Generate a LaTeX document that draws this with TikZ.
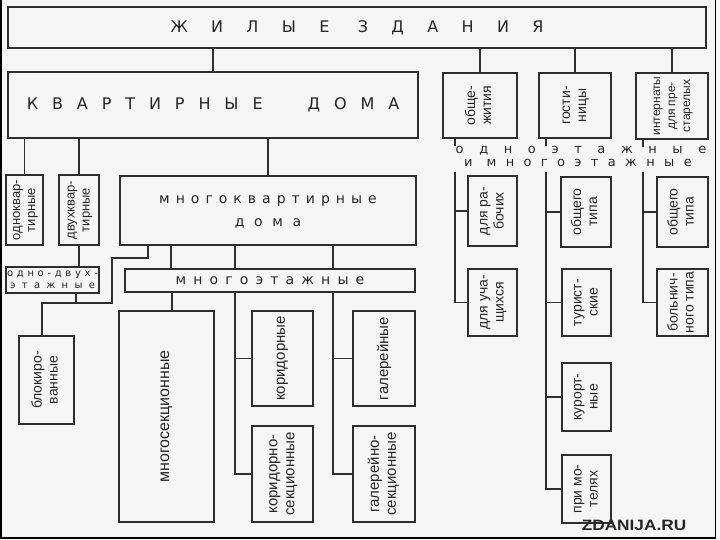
\documentclass[tikz,border=0pt]{standalone}
\usepackage{fontspec}
\usepackage{graphicx}
\setmainfont{Liberation Sans}
\newfontfamily\rotfont{Liberation Sans}
\newfontfamily\widefont{DejaVu Sans}
\newfontfamily\wmfont[FakeStretch=1.15]{Liberation Sans}
\definecolor{lc}{gray}{0.18}
\definecolor{tc}{gray}{0.15}
\definecolor{bgc}{gray}{0.965}
\newcommand\rotlab[1]{\rotatebox{90}{\begin{tabular}{@{}c@{}}#1\end{tabular}}}
\begin{document}
\begin{tikzpicture}[x=1pt,y=-1pt,
 box/.style={draw=lc,line width=1.5pt,rectangle,inner sep=0pt,text=tc},
 conn/.style={draw=lc,line width=1.5pt},
 fr/.style={draw=black,line width=1.3pt},
 lab16/.style={font=\rotfont\fontsize{16}{18}\selectfont},
 lab15/.style={font=\rotfont\fontsize{15}{17}\selectfont},
 lab14/.style={font=\rotfont\fontsize{14}{16}\selectfont},
 lab13/.style={font=\rotfont\fontsize{13}{15}\selectfont},
 lab12/.style={font=\rotfont\fontsize{12}{15}\selectfont},
 freetext/.style={text=tc,inner sep=0pt,anchor=base}]
\useasboundingbox (0,0) rectangle (720,540);
\fill[bgc] (0,0) rectangle (720,540);
\draw[fr] (1,0) -- (1,538) -- (715.5,538) -- (715.5,0);

% top level
\node[box,minimum width=698pt,minimum height=41pt,font=\widefont\fontsize{16}{18}\selectfont\addfontfeatures{LetterSpace=146}] (top) at (357,27.5) {ЖИЛЫЕ ЗДАНИЯ};
\node[box,minimum width=410pt,minimum height=66pt,font=\widefont\fontsize{16}{18}\selectfont\addfontfeatures{LetterSpace=87}] (kv) at (213,105) {КВАРТИРНЫЕ\hspace{45pt}ДОМА\hspace{10pt}};
\node[box,lab14,minimum width=74pt,minimum height=65pt] (obsh) at (480,105.5) {\rotlab{обще-\\жития}};
\node[box,lab14,minimum width=72pt,minimum height=65pt] (gost) at (575,105.5) {\rotlab{гости-\\ницы}};
\node[box,lab12,minimum width=72pt,minimum height=66pt] (intern) at (672,106) {\rotlab{интернаты\\для пре-\\старелых}};

% left part
\node[box,lab13,minimum width=37pt,minimum height=70pt] (odnokv) at (24.5,210) {\rotlab{одноквар-\\тирные}};
\node[box,lab13,minimum width=40pt,minimum height=70pt] (dvukh) at (79,210) {\rotlab{двухквар-\\тирные}};
\node[box,minimum width=296pt,minimum height=69pt,font=\widefont\fontsize{14}{23}\selectfont] (mk) at (268,210.5) {\begin{tabular}{@{}c@{}}{\addfontfeatures{LetterSpace=43}многоквартирные}\\{\addfontfeatures{LetterSpace=69}дома}\end{tabular}\hspace{14pt}};
\node[box,minimum width=93pt,minimum height=26pt,align=center,font=\widefont\fontsize{10}{12}\selectfont] (odv) at (52.5,280) {{\addfontfeatures{LetterSpace=37}одно-двух-}\\{\addfontfeatures{LetterSpace=63}этажные}};
\node[box,minimum width=290pt,minimum height=23pt,font=\widefont\fontsize{14}{16}\selectfont\addfontfeatures{LetterSpace=51}] (me) at (270,280.5) {многоэтажные};
\node[box,lab14,minimum width=55pt,minimum height=88pt] (blk) at (46.5,380) {\rotlab{блокиро-\\ванные}};
\node[box,lab16,minimum width=95pt,minimum height=211pt] (mnsek) at (166.5,416.5) {\rotatebox{90}{многосекционные}};
\node[box,lab15,minimum width=61pt,minimum height=95pt] (kor) at (282.5,358.5) {\rotatebox{90}{коридорные}};
\node[box,lab15,minimum width=61pt,minimum height=96pt] (korsek) at (282.5,474) {\rotlab{коридорно-\\секционные}};
\node[box,lab15,minimum width=62pt,minimum height=95pt] (gal) at (384,358.5) {\rotatebox{90}{галерейные}};
\node[box,lab15,minimum width=62pt,minimum height=96pt] (galsek) at (384,474) {\rotlab{галерейно-\\секционные}};

% right part
\node[box,lab14,minimum width=49pt,minimum height=70pt] (rab) at (492.5,211) {\rotlab{для ра-\\бочих}};
\node[box,lab14,minimum width=49pt,minimum height=67pt] (uch) at (492.5,302.5) {\rotlab{для уча-\\щихся}};
\node[box,lab14,minimum width=50pt,minimum height=70pt] (gen1) at (586,212) {\rotlab{общего\\типа}};
\node[box,lab14,minimum width=49pt,minimum height=67pt] (tur) at (586.5,302.5) {\rotlab{турист-\\ские}};
\node[box,lab14,minimum width=49pt,minimum height=68pt] (kur) at (586.5,397) {\rotlab{курорт-\\ные}};
\node[box,lab14,minimum width=49pt,minimum height=68pt] (mot) at (586.5,489) {\rotlab{при мо-\\телях}};
\node[box,lab14,minimum width=51pt,minimum height=70pt] (gen2) at (682.5,212) {\rotlab{общего\\типа}};
\node[box,lab14,minimum width=51pt,minimum height=67pt] (bol) at (682.5,302.5) {\rotlab{больнич-\\ного типа}};

\node[freetext,font=\widefont\fontsize{13}{15}\selectfont\addfontfeatures{LetterSpace=120}] (t1) at (581,153.5) {одноэтажные};
\node[freetext,font=\widefont\fontsize{13}{15}\selectfont\addfontfeatures{LetterSpace=72}] (t2) at (578,166.5) {и\hspace{14pt}многоэтажные};
\node[freetext,font=\wmfont\bfseries\fontsize{15}{17}\selectfont,text=black!85] (wm) at (634,530) {ZDANIJA.RU};

% helper coordinates
\coordinate (p0) at (148,0);
\coordinate (p1) at (112,258);
\coordinate (p2) at (42,303);
\coordinate (p3) at (76,303);
\coordinate (x171) at (171,0);
\coordinate (x172) at (172,0);
\coordinate (x235) at (235,0);
\coordinate (x333) at (333,0);
\coordinate (b1) at (455,172);
\coordinate (b2) at (546,172);
\coordinate (b3) at (643,172);

% connectors
\draw[conn] (top.south -| kv.north) -- (kv.north);
\draw[conn] (top.south -| obsh.north) -- (obsh.north);
\draw[conn] (top.south -| gost.north) -- (gost.north);
\draw[conn] (top.south -| intern.north) -- (intern.north);
\draw[conn] (kv.south -| odnokv.north) -- (odnokv.north);
\draw[conn] (kv.south -| dvukh.north) -- (dvukh.north);
\draw[conn] (kv.south -| mk.north) -- (mk.north);
\draw[conn] (dvukh.south) -- (dvukh.south |- odv.north);
\draw[conn] (mk.south -| p0) |- (p1) |- (p2) -- (blk.north -| p2);
\draw[conn] (odv.south -| p3) -- (p3);
\draw[conn] (mk.south -| x171) -- (me.north -| x171);
\draw[conn] (mk.south -| x235) -- (me.north -| x235);
\draw[conn] (mk.south -| x333) -- (me.north -| x333);
\draw[conn] (me.south -| x172) -- (mnsek.north -| x172);
\draw[conn] (me.south -| x235) |- (korsek.west);
\draw[conn] (kor.west -| x235) -- (kor.west);
\draw[conn] (me.south -| x333) |- (galsek.west);
\draw[conn] (gal.west -| x333) -- (gal.west);

\draw[conn] (obsh.south -| b1) -- ++(0,7);
\draw[conn] (gost.south -| b2) -- ++(0,7);
\draw[conn] (intern.south -| b3) -- ++(0,7);
\draw[conn] (b1) |- (uch.west);
\draw[conn] (rab.west -| b1) -- (rab.west);
\draw[conn] (b2) |- (mot.west);
\draw[conn] (gen1.west -| b2) -- (gen1.west);
\draw[conn] (tur.west -| b2) -- (tur.west);
\draw[conn] (kur.west -| b2) -- (kur.west);
\draw[conn] (b3) |- (bol.west);
\draw[conn] (gen2.west -| b3) -- (gen2.west);
\end{tikzpicture}
\end{document}
